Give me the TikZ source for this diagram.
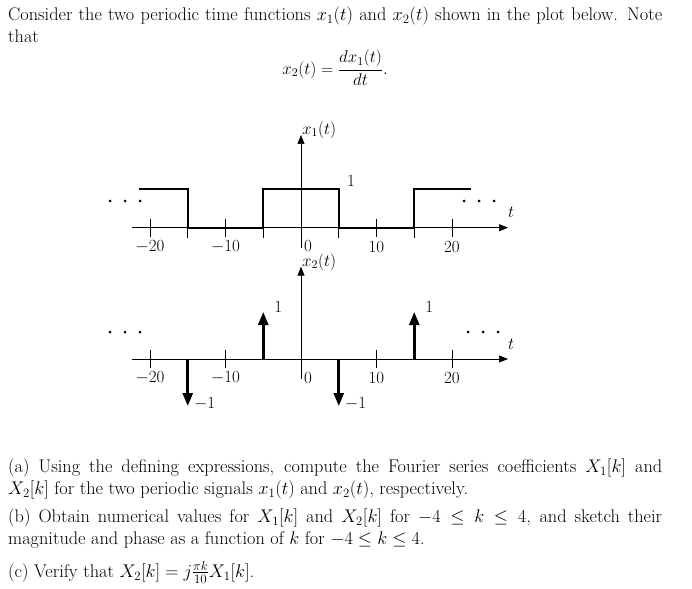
\RequirePackage{fix-cm}
\documentclass[tikz,border=0pt]{standalone}
\usepackage{amsmath}
\usepackage{fontspec}
\usetikzlibrary{arrows.meta}
\begin{document}
\begin{tikzpicture}[x=1pt,y=-1pt,
  txt/.style={anchor=north west,inner sep=0pt,text width=654pt,align=justify,font=\fontsize{18.3}{22}\selectfont},
  lbl/.style={inner sep=1pt,font=\fontsize{17}{19}\selectfont},
  axis/.style={-{Triangle[length=9pt,width=7pt]},line width=0.6pt},
  sig/.style={line width=1.6pt},
  imp/.style={-{Triangle[length=13pt,width=10pt]},line width=2.6pt},
  tick/.style={line width=0.6pt},
  dot/.style={circle,fill,inner sep=0pt,minimum size=3pt}]
\useasboundingbox (0,0) rectangle (692,588);
\node[txt] (t1) at (8,7) {Consider the two periodic time functions $x_1(t)$ and $x_2(t)$ shown in the plot below. Note that};
\node[lbl] (eq) at (335,68) {$\displaystyle x_2(t)=\frac{dx_1(t)}{dt}.$};
% upper plot
\coordinate (a1s) at (131.7,227.7); \coordinate (a1e) at (508,227.7);
\draw[axis] (a1s) -- (a1e);
\coordinate (v1s) at (301,248); \coordinate (v1e) at (301,135);
\draw[axis] (v1s) -- (v1e);
\node[lbl,anchor=west] (x1) at (301,130) {$x_1(t)$};
\node[lbl] (t1l) at (511,212) {$t$};
\foreach \t in {-20,-10,10,20} \draw[tick] (301+7.55*\t,218.7) -- (301+7.55*\t,236.7);
\foreach \t in {-15,-5,5,15} \draw[tick] (301+7.55*\t,227.7) -- (301+7.55*\t,237.7);
\draw[sig] (301-7.55*21.5,189) -- (301-7.55*15,189) -- (301-7.55*15,227.7) -- (301-7.55*5,227.7) -- (301-7.55*5,189) -- (301+7.55*5,189) -- (301+7.55*5,227.7) -- (301+7.55*15,227.7) -- (301+7.55*15,189) -- (301+7.55*22.5,189);
\node[lbl] (one1) at (351,181) {$1$};
\foreach \t/\s in {-20/$-20$,-10/$-10$,10/$10$,20/$20$} \node[lbl] at (301+7.55*\t,247) {\s};
\node[lbl] (z1) at (308,246) {$0$};
\foreach \x in {110,125,140} \node[dot] at (\x,201) {};
\foreach \x in {464,479,494} \node[dot] at (\x,201) {};
% lower plot
\coordinate (a2s) at (131.7,359); \coordinate (a2e) at (508,359);
\draw[axis] (a2s) -- (a2e);
\coordinate (v2s) at (301,379); \coordinate (v2e) at (301,266.7);
\draw[axis] (v2s) -- (v2e);
\node[lbl,anchor=west] (x2) at (301,262) {$x_2(t)$};
\node[lbl] (t2l) at (511,344) {$t$};
\foreach \t in {-20,-10,10,20} \draw[tick] (301+7.55*\t,350) -- (301+7.55*\t,368);
\foreach \t/\s in {-20/$-20$,-10/$-10$,10/$10$,20/$20$} \node[lbl] at (301+7.55*\t,378) {\s};
\node[lbl] (z2) at (308,378) {$0$};
\foreach \t in {-5,15} {\draw[imp] (301+7.55*\t,359) -- (301+7.55*\t,312);
  \node[lbl] at (301+7.55*\t+15,307) {$1$};}
\foreach \t in {-15,5} {\draw[imp] (301+7.55*\t,359) -- (301+7.55*\t,406);
  \node[lbl] at (301+7.55*\t+17,404) {$-1$};}
\foreach \x in {110,125,140} \node[dot] at (\x,332) {};
\foreach \x in {468,483,498} \node[dot] at (\x,332) {};
% questions
\node[txt] (qa) at (8,459) {(a) Using the defining expressions, compute the Fourier series coefficients $X_1[k]$ and\linebreak $X_2[k]$ for the two periodic signals $x_1(t)$ and $x_2(t)$, respectively.};
\node[txt] (qb) at (8,509) {(b) Obtain numerical values for $X_1[k]$ and $X_2[k]$ for $-4\leq k\leq 4$, and sketch their magnitude and phase as a function of $k$ for $-4\leq k\leq 4$.};
\node[txt] (qc) at (8,561) {(c) Verify that $X_2[k]=j\frac{\pi k}{10}X_1[k]$.};
\end{tikzpicture}
\end{document}
